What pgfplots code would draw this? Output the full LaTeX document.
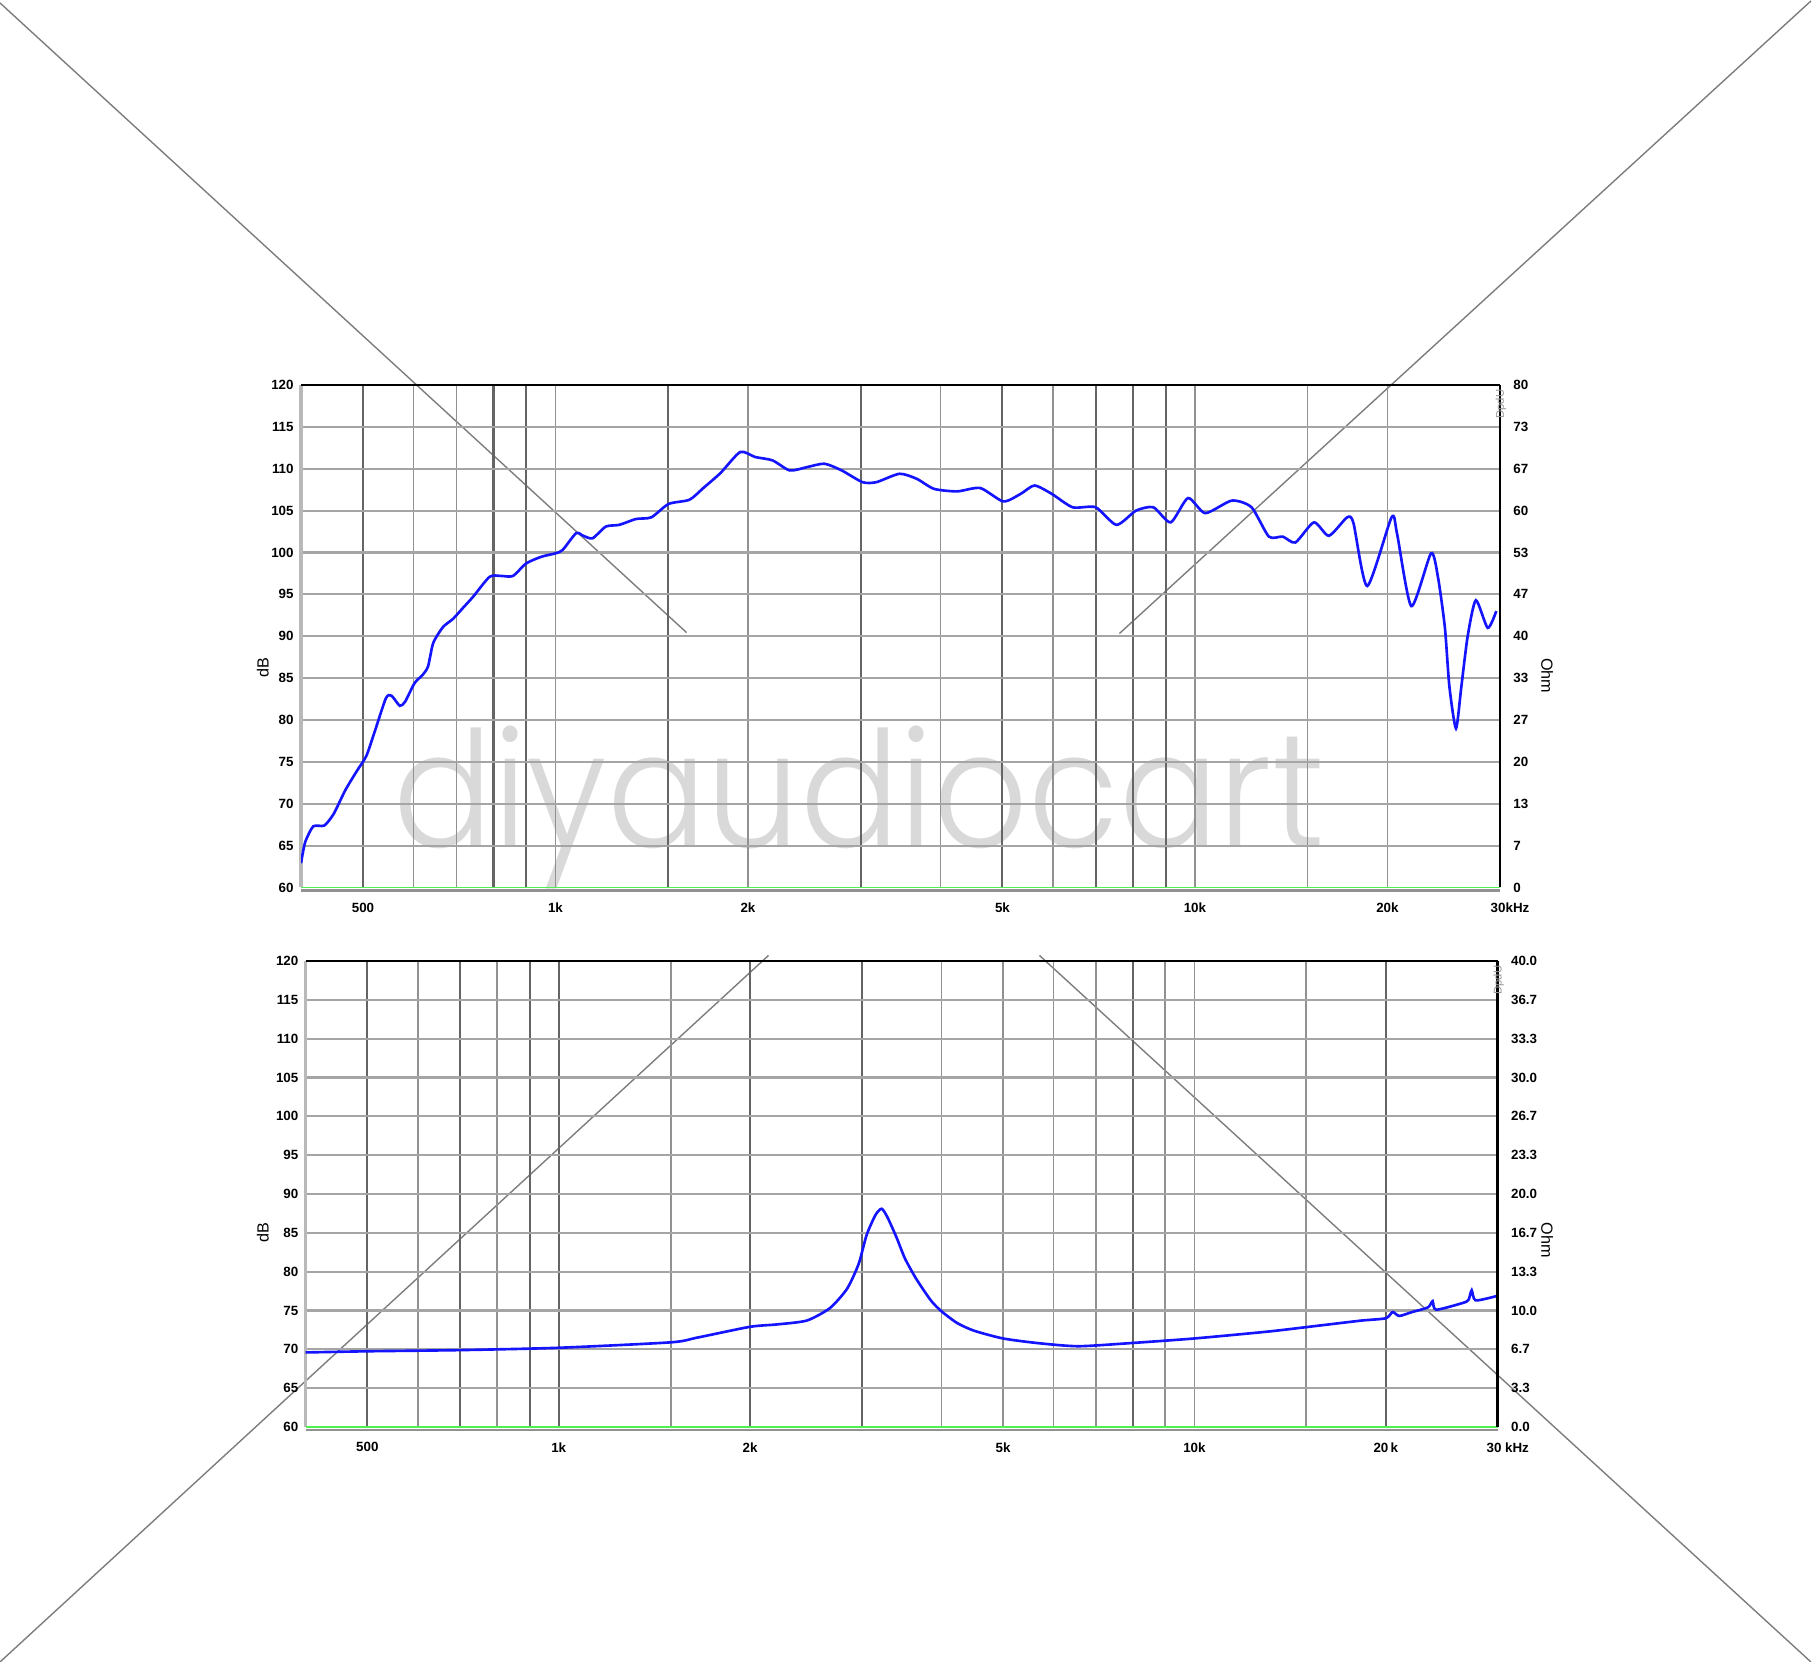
\documentclass[border=0pt]{standalone}
\usepackage{pgfplots}
\pgfplotsset{compat=1.18}
\usepackage{pgfplotstable}
\usepackage{fontspec}
\setmainfont{Liberation Sans}
\newfontfamily\wmfont{Poppins Light}
\definecolor{curve}{RGB}{20,20,255}
\definecolor{gdark}{RGB}{100,100,100}
\definecolor{glight}{RGB}{145,145,145}
\definecolor{hgrid}{RGB}{165,165,165}
\definecolor{grn}{RGB}{80,240,80}
\definecolor{lborder}{RGB}{185,185,185}
\definecolor{wm}{RGB}{217,217,217}
\definecolor{diag}{RGB}{125,125,125}
\definecolor{logo}{RGB}{150,150,150}
\newcommand{\tlfont}{\fontsize{3.8}{4}\selectfont\bfseries}

\pgfplotstableread{
f db
400 62.9
406 65.4
418 67.3
435 67.4
450 68.8
469 71.6
489 73.9
506 75.7
521 78.5
543 82.6
554 82.9
571 81.7
582 82.2
602 84.4
620 85.4
632 86.4
644 89.2
667 91.1
692 92.1
717 93.4
743 94.7
789 97.1
823 97.2
858 97.2
900 98.7
951 99.5
1000 99.9
1026 100.3
1077 102.3
1105 102.0
1143 101.7
1199 103.1
1258 103.3
1336 104.0
1412 104.2
1503 105.8
1620 106.3
1703 107.7
1812 109.5
1945 112.0
2053 111.4
2185 111.0
2325 109.8
2475 110.2
2634 110.6
2803 109.8
3021 108.4
3176 108.4
3451 109.4
3673 108.8
3909 107.6
4248 107.3
4616 107.7
5016 106.1
5339 107.0
5612 108.0
5973 107.0
6438 105.4
6995 105.4
7540 103.3
8088 105.0
8610 105.4
9165 103.6
9754 106.5
10380 104.7
11420 106.2
12260 105.4
13050 101.9
13720 101.9
14360 101.2
15350 103.6
16200 102.0
17300 104.2
17700 103.5
18600 96.0
20300 104.2
20700 102.3
21800 93.6
23400 99.9
24000 97.0
24600 91.0
25000 84.0
25600 79.0
26100 84.0
26700 90.0
27500 94.3
28700 91.0
29600 93.0
}\topdata

\pgfplotstableread{
f db
400 69.6
500 69.75
700 69.9
1000 70.2
1500 70.9
1650 71.5
2000 72.9
2200 73.2
2455 73.7
2670 75.3
2842 77.8
2964 81.0
3050 84.7
3150 87.3
3222 88.1
3290 87.0
3400 84.4
3505 81.7
3650 79.1
3850 76.3
4000 74.9
4232 73.4
4500 72.4
5000 71.4
5673 70.8
6563 70.4
7930 70.8
10000 71.4
13100 72.3
15500 73.0
18300 73.7
20000 74.0
20500 74.8
21000 74.3
22000 74.8
23300 75.4
23700 76.2
24000 75.1
26500 76.0
27000 76.4
27300 77.6
27700 76.3
30000 76.9
}\botdata

\begin{document}
\begin{tikzpicture}
\path[use as bounding box] (0,0) rectangle (18.12cm,16.62cm);
\begin{scope}[x=0.01cm,y=0.01cm]
  \draw[diag, line width=0.4pt] (0,1660) -- (687,1030);
  \draw[diag, line width=0.4pt] (1040,707) -- (1812,0);
  \draw[diag, line width=0.4pt] (1812,1662) -- (1120,1029);
  \draw[diag, line width=0.4pt] (769,707) -- (0,0);
  \node[anchor=base west, inner sep=0pt, text=wm, xscale=0.913, font=\wmfont\fontsize{46}{46}\selectfont] at (393,815) {diyaudiocart};
  \node[rotate=90, font=\fontsize{4.6}{5}\selectfont] at (263,995) {dB};
  \node[rotate=-90, font=\fontsize{4.6}{5}\selectfont] at (1548,987) {Ohm};
  \node[rotate=90, font=\fontsize{4.6}{5}\selectfont] at (263,430) {dB};
  \node[rotate=-90, font=\fontsize{4.6}{5}\selectfont] at (1548,422) {Ohm};
\end{scope}

% ---------- top chart ----------
\begin{axis}[at={(3.01cm,7.745cm)}, anchor=south west, width=11.99cm, height=5.025cm,
  xmode=log, scale only axis, xmin=400, xmax=30000, ymin=60, ymax=120,
  axis line style={draw=none}, major tick length=0pt, clip mode=individual,
  ytick={60,65,...,120},
  yticklabels={60,65,70,75,80,85,90,95,100,105,110,115,120},
  extra y ticks={65,70,...,115},
  extra y tick labels={,,,,,,,,,,},
  extra y tick style={grid=major, major grid style={hgrid, line width=0.6pt}},
  xmajorgrids, major grid style={gdark, line width=0.6pt},
  tick label style={font=\tlfont, text=black},
  xticklabel style={yshift=-0.03cm},
  yticklabel style={xshift=0.05cm},
  xtick={500,800,900,1500,3000,5000,7000,8000,9000},
  xticklabels={500,,,,,5k,,,},
  extra x ticks={600,700,1000,2000,4000,6000,10000,15000,20000,30000},
  extra x tick labels={,,1k,2k,,,10k,,20k,\hspace*{0.2cm}30kHz},
  extra x tick style={grid=major, major grid style={glight, line width=0.5pt}},
]
  \draw[lborder, line width=0.9pt] (rel axis cs:0,0) -- (rel axis cs:0,1);
  \draw[glight, line width=0.7pt] ([yshift=-0.03cm]rel axis cs:0,0) -- ([yshift=-0.03cm]rel axis cs:1,0);
  \draw[grn, line width=0.5pt] (rel axis cs:0,0) -- (rel axis cs:1,0);
  \addplot[curve, line width=0.75pt, smooth, tension=0.4] table[x=f, y=db] {\topdata};
  \draw[black, line width=0.7pt] (rel axis cs:0,1) -- (rel axis cs:1,1);
  \draw[black, line width=0.8pt] (rel axis cs:1,0) -- (rel axis cs:1,1);
  \node[rotate=90, anchor=north east, text=logo, font=\fontsize{3.2}{3.5}\selectfont, inner sep=0.6pt] at (rel axis cs:0.994,0.996) {DpdU};
\end{axis}
\begin{axis}[at={(3.01cm,7.745cm)}, anchor=south west, width=11.99cm, height=5.025cm,
  scale only axis, xmin=0, xmax=1, hide x axis, axis y line*=right,
  axis line style={draw=none}, major tick length=0pt,
  tick label style={font=\tlfont, text=black},
  yticklabel style={xshift=0.01cm},
  ymin=0, ymax=80,
  ytick={0,6.6667,13.3333,20,26.6667,33.3333,40,46.6667,53.3333,60,66.6667,73.3333,80},
  yticklabels={0,7,13,20,27,33,40,47,53,60,67,73,80},
]
\end{axis}

% ---------- bottom chart ----------
\begin{axis}[at={(3.057cm,2.35cm)}, anchor=south west, width=11.92cm, height=4.66cm,
  xmode=log, scale only axis, xmin=400, xmax=30000, ymin=60, ymax=120,
  axis line style={draw=none}, major tick length=0pt, clip mode=individual,
  ytick={60,65,...,120},
  yticklabels={60,65,70,75,80,85,90,95,100,105,110,115,120},
  extra y ticks={65,70,...,115},
  extra y tick labels={,,,,,,,,,,},
  extra y tick style={grid=major, major grid style={hgrid, line width=0.6pt}},
  xmajorgrids, major grid style={gdark, line width=0.6pt},
  tick label style={font=\tlfont, text=black},
  xticklabel style={yshift=-0.03cm},
  yticklabel style={xshift=0.05cm},
  xtick={500,700,900,1000,2000,3000,8000,20000},
  xticklabels={500,,,1k,2k,,,20\,k},
  extra x ticks={600,800,1500,4000,5000,6000,7000,9000,10000,15000,30000},
  extra x tick labels={,,,,5k,,,,10k,,\hspace*{0.2cm}30 kHz},
  extra x tick style={grid=major, major grid style={glight, line width=0.5pt}},
]
  \draw[lborder, line width=0.9pt] (rel axis cs:0,0) -- (rel axis cs:0,1);
  \draw[glight, line width=0.7pt] ([yshift=-0.03cm]rel axis cs:0,0) -- ([yshift=-0.03cm]rel axis cs:1,0);
  \draw[grn, line width=0.5pt] (rel axis cs:0,0) -- (rel axis cs:1,0);
  \addplot[curve, line width=0.75pt, smooth, tension=0.4] table[x=f, y=db] {\botdata};
  \draw[black, line width=0.35pt] (rel axis cs:0,1) -- (rel axis cs:1,1);
  \draw[black, line width=0.8pt] (rel axis cs:1,0) -- (rel axis cs:1,1);
  \node[rotate=90, anchor=north east, text=logo, font=\fontsize{3.2}{3.5}\selectfont, inner sep=0.6pt] at (rel axis cs:0.994,0.996) {DpdU};
\end{axis}
\begin{axis}[at={(3.057cm,2.35cm)}, anchor=south west, width=11.92cm, height=4.66cm,
  scale only axis, xmin=0, xmax=1, hide x axis, axis y line*=right,
  axis line style={draw=none}, major tick length=0pt,
  tick label style={font=\tlfont, text=black},
  yticklabel style={xshift=0.01cm},
  ymin=0, ymax=40,
  ytick={0,3.3333,6.6667,10,13.3333,16.6667,20,23.3333,26.6667,30,33.3333,36.6667,40},
  yticklabels={0.0,3.3,6.7,10.0,13.3,16.7,20.0,23.3,26.7,30.0,33.3,36.7,40.0},
]
\end{axis}
\end{tikzpicture}
\end{document}
